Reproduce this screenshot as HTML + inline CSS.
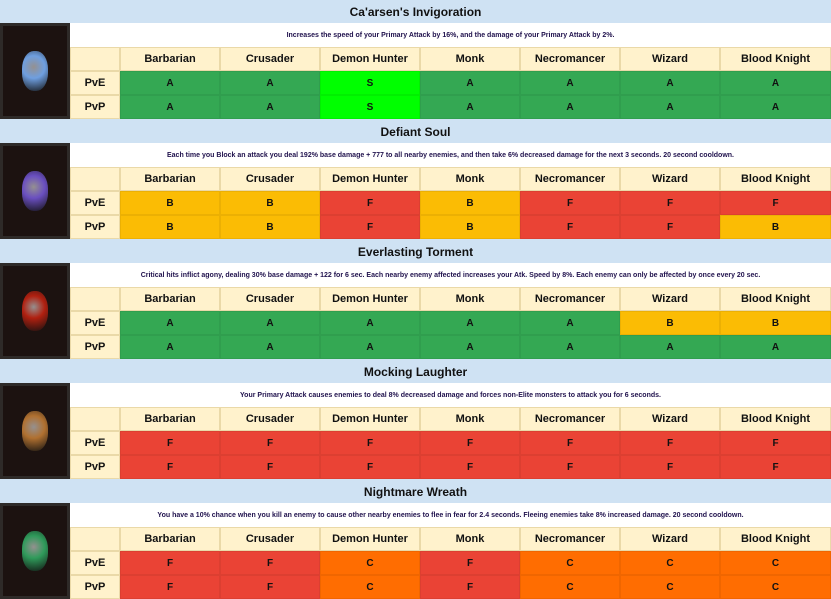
<!DOCTYPE html>
<html><head><meta charset="utf-8"><style>
body{margin:0;width:831px;height:599px;overflow:hidden;background:#cfe2f3;font-family:"Liberation Sans",sans-serif;position:relative}
.a{position:absolute;box-sizing:border-box;display:flex;align-items:center;justify-content:center;text-align:center}
.t{font-size:12px;font-weight:bold;color:#111}
.d{font-size:7px;font-weight:bold;color:#20124d;background:#fff}
.h{background:#fff2cc;font-size:11px;font-weight:bold;border:1px solid #ead9a8;color:#111}
.c{font-size:10px;font-weight:bold;color:#111;border:1px solid rgba(0,0,0,0.06)}
.img{background:#1c1210;border:3px solid #2e2a28}
</style></head><body>
<script>
const gems=["Ca'arsen's Invigoration","Defiant Soul","Everlasting Torment","Mocking Laughter","Nightmare Wreath"];
const descs=["Increases the speed of your Primary Attack by 16%, and the damage of your Primary Attack by 2%.",
"Each time you Block an attack you deal 192% base damage + 777 to all nearby enemies, and then take 6% decreased damage for the next 3 seconds. 20 second cooldown.",
"Critical hits inflict agony, dealing 30% base damage + 122 for 6 sec. Each nearby enemy affected increases your Atk. Speed by 8%. Each enemy can only be affected by once every 20 sec.",
"Your Primary Attack causes enemies to deal 8% decreased damage and forces non-Elite monsters to attack you for 6 seconds.",
"You have a 10% chance when you kill an enemy to cause other nearby enemies to flee in fear for 2.4 seconds. Fleeing enemies take 8% increased damage. 20 second cooldown."];
const classes=["Barbarian","Crusader","Demon Hunter","Monk","Necromancer","Wizard","Blood Knight"];
const pve=["AASAAAA","BBFBFFF","AAAAABB","FFFFFFF","FFCFCCC"];
const pvp=["AASAAAA","BBFBFFB","AAAAAAA","FFFFFFF","FFCFCCC"];
const gemColors=["#6f9fe0","#6a4fc0","#b02010","#b07030","#2f9a5a"];
const col={A:"#34a853",S:"#00ff00",B:"#fbbc04",F:"#ea4335",C:"#ff6d01"};
const xs=[120,220,320,420,520,620,720,831];
function box(cls,x,y,w,h,txt,name,bg){const e=document.createElement('div');e.className='a '+cls;
e.style.cssText=`left:${x}px;top:${y}px;width:${w}px;height:${h}px;`+(bg?`background:${bg};`:'');
if(txt!==undefined)e.textContent=txt;


document.body.appendChild(e);return e;}
gems.forEach((g,i)=>{const y=i*120;
box('t',0,y,831,23,g,'gem-title');
box('d',70,y+23,761,24,descs[i],'gem-description');
const im=box('img',0,y+23,70,96,undefined,'gem-image');
im.innerHTML=`<div style="width:26px;height:40px;border-radius:45%;background:radial-gradient(circle at 45% 40%,#fff8,${gemColors[i]} 40%,#111 100%)"></div>`;
box('h',70,y+47,50,24,'','header-blank');
classes.forEach((c,j)=>box('h',xs[j],y+47,xs[j+1]-xs[j],24,c,'class-header'));
[['PvE',pve[i]],['PvP',pvp[i]]].forEach(([lab,row],r)=>{const yy=y+71+r*24;
box('h',70,yy,50,24,lab,'mode-label');
for(let j=0;j<7;j++)box('c',xs[j],yy,xs[j+1]-xs[j],24,row[j],'grade-cell',col[row[j]]);});
});
</script>
</body></html>
